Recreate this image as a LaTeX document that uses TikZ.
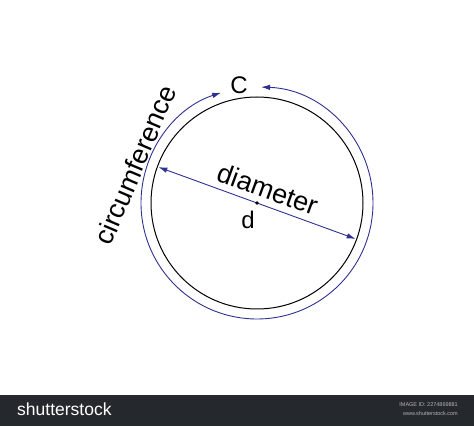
\documentclass[tikz,border=0pt]{standalone}
\usepackage{fontspec}
\setmainfont{Liberation Sans}
\usepackage{xcolor}
\usetikzlibrary{arrows.meta}
\definecolor{ArcBlue}{HTML}{2E3192}
\definecolor{BarGrey}{HTML}{25282D}
\definecolor{IdGrey}{HTML}{B4B6BA}

\begin{document}
\begin{tikzpicture}[x=1pt,y=1pt,
  lbl/.style={font=\fontsize{27}{27}\selectfont, inner sep=0pt},
  sml/.style={font=\fontsize{24}{24}\selectfont, inner sep=0pt},
  bluearrow/.style={ArcBlue, line width=0.9pt, {Latex[length=9pt,width=5.5pt]}-{Latex[length=9pt,width=5.5pt]}},
  tinytxt/.style={IdGrey, font=\fontsize{5.5}{6}\selectfont, inner sep=0pt, anchor=east}]
\useasboundingbox (0,0) rectangle (474,426);
\coordinate (O) at (257,223);
\draw[line width=1pt] (O) circle[radius=106];
%
\draw[bluearrow] (O) ++(88:116) arc[start angle=88, end angle=-252, radius=116];
%
\path (O) ++(160:105) coordinate (dl);
\path (O) ++(-20:105) coordinate (dr);
\draw[bluearrow] (dl) -- (dr);
\fill (O) circle[radius=1.8];
%
\node[sml] (c) at (239,341) {C};
\node[sml] (d) at (248,206) {d};
\node[lbl, rotate=-20] (diam) at (268,237) {diameter};
\node[lbl, rotate=67] (circ) at (135,261) {circumference};
%
\fill[BarGrey] (0,0) rectangle (474,31);
\node[white, font=\fontsize{17.5}{18}\selectfont, inner sep=0pt, anchor=base west] (logo) at (17,11) {shutterstock};
\node[tinytxt] (imgid) at (458,21) {IMAGE ID: 2274869881};
\node[tinytxt] (www) at (458,12) {www.shutterstock.com};
\end{tikzpicture}
\end{document}
